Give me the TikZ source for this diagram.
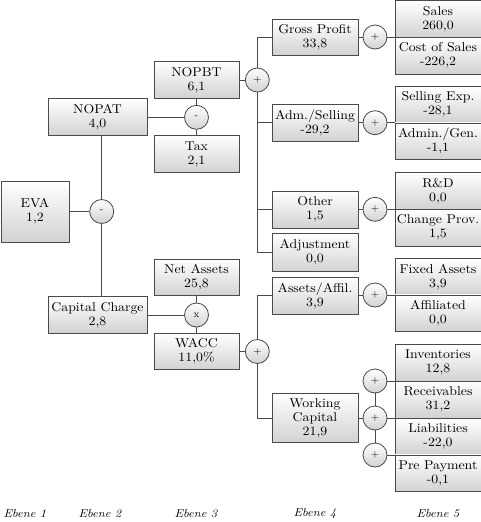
\documentclass[tikz,border=0pt]{standalone}
\usepackage{fontspec}
\setmainfont{lmroman10-regular}[Extension=.otf, ItalicFont=lmroman10-italic, BoldFont=lmroman10-bold, FakeStretch=1.08]
\definecolor{linec}{HTML}{4A4A4A}
\definecolor{boxbot}{HTML}{D2D2D2}
\tikzset{
  box/.style={draw=linec, line width=0.8pt, top color=white, bottom color=boxbot,
    minimum width=86pt, minimum height=36.7pt, inner sep=0pt, align=center,
    font=\fontsize{12.8}{14}\selectfont},
  op/.style={circle, draw=linec, line width=0.8pt, top color=white, bottom color=boxbot,
    minimum size=24pt, inner sep=0pt, font=\fontsize{10}{10}\selectfont},
  conn/.style={draw=linec, line width=0.9pt},
  lvl/.style={font=\fontsize{11.5}{12}\selectfont\itshape}
}
\begin{document}
\begin{tikzpicture}[x=1pt,y=-1pt]
\useasboundingbox (0,0) rectangle (481,522);
% level 1-3
\node[box, minimum width=68pt, minimum height=61pt] (eva) at (35,211.5) {EVA\\1,2};
\node[box, minimum width=99pt, minimum height=37pt] (nopat) at (97.5,117.3) {NOPAT\\4,0};
\node[box, minimum width=99pt, minimum height=36.6pt] (cc) at (97.5,315) {Capital Charge\\2,8};
\node[box, minimum width=85pt] (nopbt) at (196.5,80) {NOPBT\\6,1};
\node[box, minimum width=85pt] (tax) at (196.5,154) {Tax\\2,1};
\node[box, minimum width=85pt] (na) at (196.5,277.5) {Net Assets\\25,8};
\node[box, minimum width=85pt] (wacc) at (196.5,351.5) {WACC\\11,0\%};
% level 4
\node[box, minimum height=36pt] (gp) at (315,37) {Gross Profit\\33,8};
\node[box, minimum height=37pt] (adm) at (315,122.7) {Adm./Selling\\-29,2};
\node[box, minimum height=37pt] (oth) at (315,209.5) {Other\\1,5};
\node[box, minimum height=38pt] (adj) at (315,252.5) {Adjustment\\0,0};
\node[box, minimum height=37pt] (aa) at (315,295.5) {Assets/Affil.\\3,9};
\node[box, minimum height=49.5pt] (wc) at (315,418) {Working\\Capital\\21,9};
% level 5
\node[box] (sales) at (438,19.2) {Sales\\260,0};
\node[box] (cos) at (438,55.7) {Cost of Sales\\-226,2};
\node[box] (sel) at (438,104.7) {Selling Exp.\\-28,1};
\node[box] (admg) at (438,141.3) {Admin./Gen.\\-1,1};
\node[box] (rd) at (438,191) {R\&D\\0,0};
\node[box] (chp) at (438,227.7) {Change Prov.\\1,5};
\node[box] (fa) at (438,277.2) {Fixed Assets\\3,9};
\node[box] (aff) at (438,313.3) {Affiliated\\0,0};
\node[box] (inv) at (438,362.7) {Inventories\\12,8};
\node[box] (rec) at (438,399.7) {Receivables\\31,2};
\node[box] (lia) at (438,436.7) {Liabilities\\-22,0};
\node[box] (pp) at (438,473.3) {Pre Payment\\-0,1};
% operators
\node[op] (m1) at (101.7,211.5) {-};
\node[op] (m2) at (196.5,117.3) {-};
\node[op] (x1) at (196.5,315) {x};
\node[op] (p1) at (257.3,80) {+};
\node[op] (p2) at (257.3,351.5) {+};
\node[op] (q1) at (375,37) {+};
\node[op] (q2) at (375,122.7) {+};
\node[op] (q3) at (375,209.3) {+};
\node[op] (q4) at (375,295) {+};
\node[op] (w1) at (375,381) {+};
\node[op] (w2) at (375,418) {+};
\node[op] (w3) at (375,455) {+};
% connectors
\draw[conn] (eva.east) -- (m1.west);
\draw[conn] (m1.north) -- (m1.north |- nopat.south);
\draw[conn] (m1.south) -- (m1.south |- cc.north);
\draw[conn] (nopat.east) -- (m2.west);
\draw[conn] (m2.north) -- (nopbt.south);
\draw[conn] (m2.south) -- (tax.north);
\draw[conn] (cc.east) -- (x1.west);
\draw[conn] (x1.north) -- (na.south);
\draw[conn] (x1.south) -- (wacc.north);
\draw[conn] (nopbt.east) -- (p1.west);
\draw[conn] (p1.north) |- (gp.west);
\draw[conn] (p1.south) |- (adj.west);
\draw[conn] (p1.south |- adm.west) -- (adm.west);
\draw[conn] (p1.south |- oth.west) -- (oth.west);
\draw[conn] (wacc.east) -- (p2.west);
\draw[conn] (p2.north) |- (aa.west);
\draw[conn] (p2.south) |- (wc.west);
\draw[conn] (gp.east) -- (q1.west);
\draw[conn] (adm.east) -- (q2.west);
\draw[conn] (oth.east |- q3.west) -- (q3.west);
\draw[conn] (aa.east |- q4.west) -- (q4.west);
\draw[conn] (q1.east) -- (q1.east -| sales.west);
\draw[conn] (q2.east) -- (q2.east -| sel.west);
\draw[conn] (q3.east) -- (q3.east -| rd.west);
\draw[conn] (q4.east) -- (q4.east -| fa.west);
\draw[conn] (wc.east) -- (w2.west);
\draw[conn] (w1.south) -- (w2.north);
\draw[conn] (w2.south) -- (w3.north);
\draw[conn] (w1.east) -- (w1.east -| inv.west);
\draw[conn] (w2.east) -- (w2.east -| rec.west);
\draw[conn] (w3.east) -- (w3.east -| lia.west);
% level labels
\node[lvl] (e1) at (25,514) {Ebene 1};
\node[lvl] (e2) at (100,514) {Ebene 2};
\node[lvl] (e3) at (196,514) {Ebene 3};
\node[lvl] (e4) at (315,514) {Ebene 4};
\node[lvl] (e5) at (438,514) {Ebene 5};
\end{tikzpicture}
\end{document}
